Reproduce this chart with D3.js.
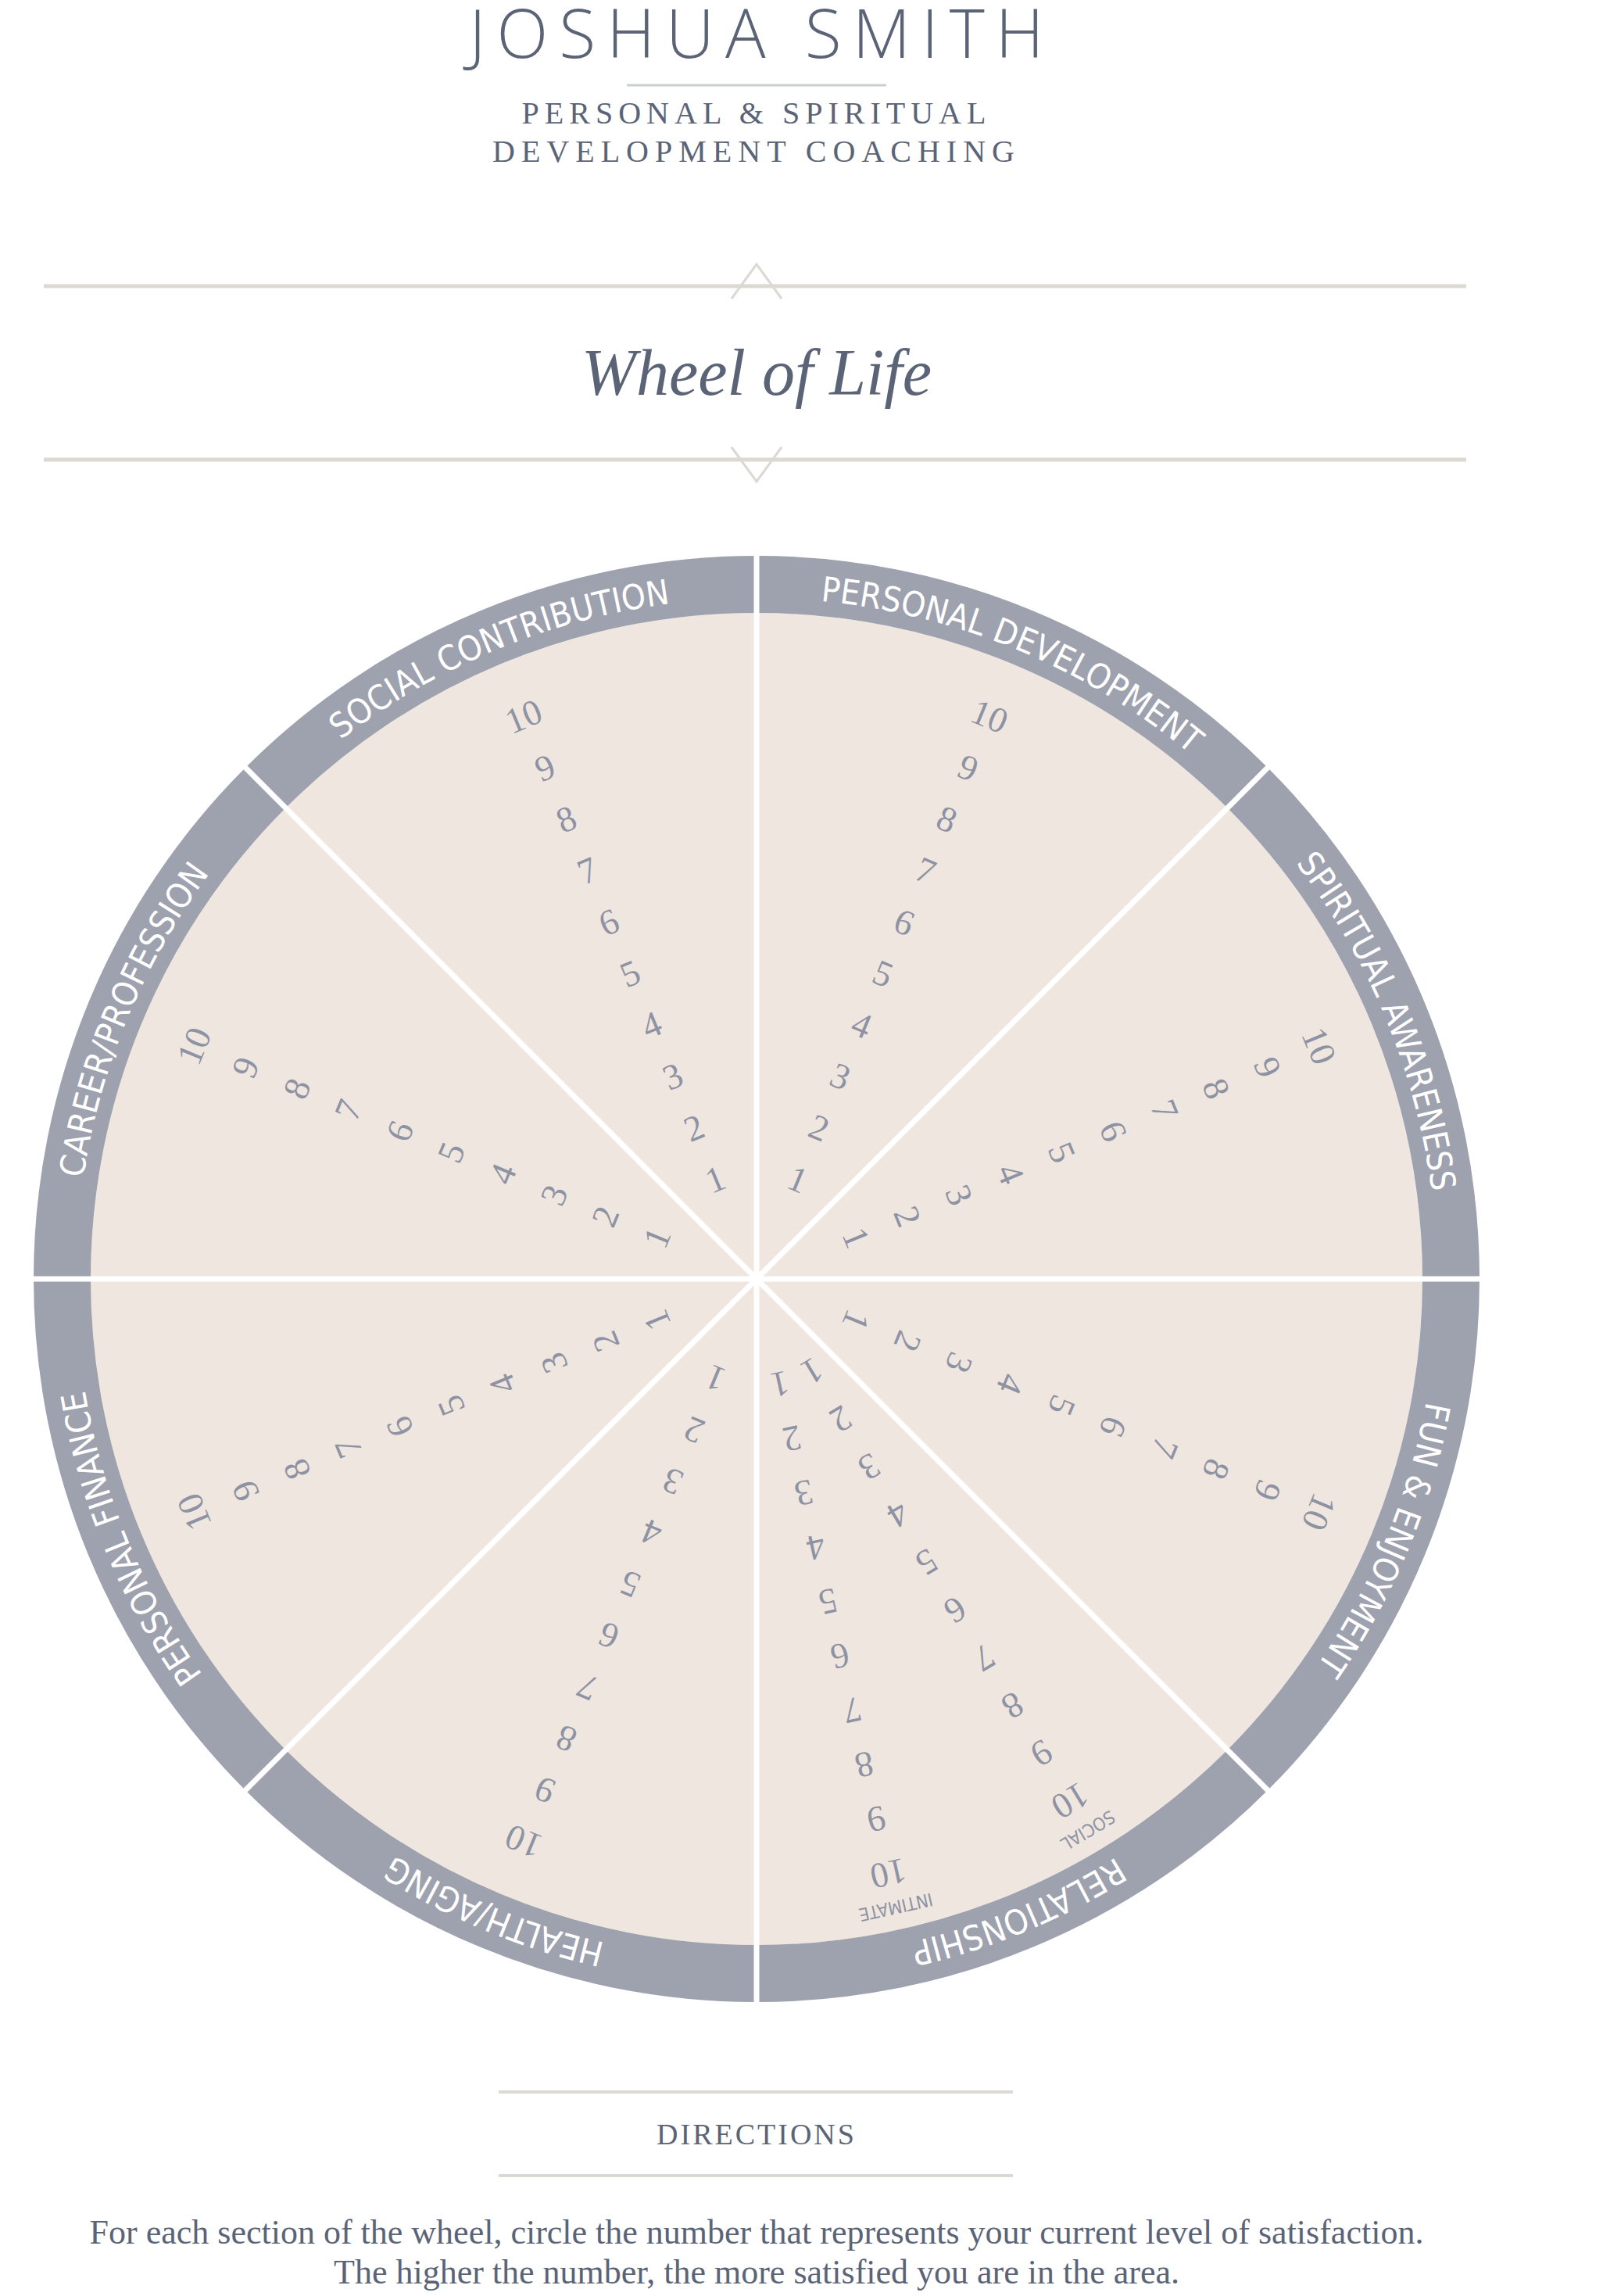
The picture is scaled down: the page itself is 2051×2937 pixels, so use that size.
<!DOCTYPE html>
<html><head><meta charset="utf-8">
<script src="https://cdn.jsdelivr.net/npm/d3@7"></script>
<style>body{margin:0;background:#fff}</style></head>
<body><svg id="c" width="2051" height="2937"></svg>
<script>
const sectors = ["PERSONAL DEVELOPMENT","SPIRITUAL AWARENESS","FUN & ENJOYMENT","RELATIONSHIP","HEALTH/AGING","PERSONAL FINANCE","CAREER/PROFESSION","SOCIAL CONTRIBUTION"];
const scaleNumbers = [1,2,3,4,5,6,7,8,9,10];
// angle (degrees, clockwise from top) of each number line
const numberLines = [
  {angle:22.5}, {angle:67.5}, {angle:112.5},
  {angle:149, sub:"SOCIAL"}, {angle:167.5, sub:"INTIMATE"},
  {angle:202.5}, {angle:247.5}, {angle:292.5}, {angle:337.5}
];
const directionsText = ["For each section of the wheel, circle the number that represents your current level of satisfaction.",
  "The higher the number, the more satisfied you are in the area."];

const svg = d3.select("#c");
const W = 2051, cx = 968, cy = 1636, Rin = 852, Rout = 925;
const ink = "#5b6477", numC = "#8e93a3", ringC = "#9ea1ae", cream = "#f0e6e0", rule = "#dcd8d2";

// header
svg.append("text").attr("x",cx+7).attr("y",74).attr("text-anchor","middle")
  .attr("font-family","Open Sans").attr("font-weight",300).attr("font-size",86)
  .attr("letter-spacing",14).attr("fill",ink).text("JOSHUA SMITH");
svg.append("line").attr("x1",802).attr("x2",1134).attr("y1",109).attr("y2",109).attr("stroke","#c8cfd0").attr("stroke-width",3);
svg.append("text").attr("x",cx).attr("y",158).attr("text-anchor","middle").attr("font-family","Liberation Serif")
  .attr("font-size",40).attr("letter-spacing",7).attr("fill",ink).text("PERSONAL & SPIRITUAL");
svg.append("text").attr("x",cx).attr("y",207).attr("text-anchor","middle").attr("font-family","Liberation Serif")
  .attr("font-size",40).attr("letter-spacing",8).attr("fill",ink).text("DEVELOPMENT COACHING");

[[366,-1],[588,1]].forEach(([y,dir])=>{
  svg.append("line").attr("x1",56).attr("x2",1876).attr("y1",y).attr("y2",y).attr("stroke",rule).attr("stroke-width",5);
  const apex = y + dir*28, feet = y - dir*16;
  svg.append("path").attr("d",`M${cx-32},${feet}L${cx},${apex}L${cx+32},${feet}`)
    .attr("fill","none").attr("stroke",rule).attr("stroke-width",3);
});
svg.append("text").attr("x",cx).attr("y",505).attr("text-anchor","middle").attr("font-family","Liberation Serif")
  .attr("font-style","italic").attr("font-size",84).attr("fill",ink).text("Wheel of Life");

// wheel
const g = svg.append("g").attr("transform",`translate(${cx},${cy})`);
const step = 2*Math.PI/sectors.length;
const pie = sectors.map((s,i)=>({name:s,start:i*step,end:(i+1)*step}));
g.selectAll("path.s").data(pie).join("path").attr("fill",cream)
  .attr("d",d=>d3.arc()({innerRadius:0,outerRadius:Rin,startAngle:d.start,endAngle:d.end}));
g.selectAll("path.r").data(pie).join("path").attr("fill",ringC)
  .attr("d",d=>d3.arc()({innerRadius:Rin,outerRadius:Rout,startAngle:d.start,endAngle:d.end}));
g.selectAll("line.sep").data(pie).join("line")
  .attr("x1",0).attr("y1",0)
  .attr("x2",d=>Math.sin(d.start)*(Rout+4)).attr("y2",d=>-Math.cos(d.start)*(Rout+4))
  .attr("stroke","#fff").attr("stroke-width",7);

// ring labels
const rt = 871;
g.append("path").attr("id","ringPath").attr("fill","none")
  .attr("d",`M0,${-rt}A${rt},${rt} 0 1 1 0,${rt}A${rt},${rt} 0 1 1 0,${-rt}`);
const L = 2*Math.PI*rt;
g.selectAll("text.lab").data(pie).join("text")
  .attr("font-family","DejaVu Sans Condensed, DejaVu Sans").attr("font-size",44).attr("fill","#fff")
  .append("textPath").attr("href","#ringPath").attr("text-anchor","middle")
  .attr("startOffset",d=>((d.start+d.end)/2/(2*Math.PI))*L).text(d=>d.name);

// numbers
const r = d3.scaleLinear().domain([1,10]).range([138,779]);
numberLines.forEach(line=>{
  const a = line.angle*Math.PI/180;
  const grp = g.append("g");
  grp.selectAll("text").data(scaleNumbers).join("text")
    .attr("transform",n=>`translate(${Math.sin(a)*r(n)},${-Math.cos(a)*r(n)}) rotate(${line.angle})`)
    .attr("text-anchor","middle").attr("dominant-baseline","central")
    .attr("font-family","Liberation Serif").attr("font-size",46).attr("fill",numC).text(n=>n);
  if(line.sub){
    const rs = 823;
    g.append("text").attr("transform",`translate(${Math.sin(a)*rs},${-Math.cos(a)*rs}) rotate(${line.angle})`)
      .attr("text-anchor","middle").attr("dominant-baseline","central")
      .attr("font-family","DejaVu Sans Condensed, DejaVu Sans").attr("font-size",23).attr("fill",numC).text(line.sub);
  }
});

// directions
[2676,2783].forEach(y=>svg.append("line").attr("x1",638).attr("x2",1296).attr("y1",y).attr("y2",y).attr("stroke",rule).attr("stroke-width",4));
svg.append("text").attr("x",cx).attr("y",2743).attr("text-anchor","middle").attr("font-family","Liberation Serif")
  .attr("font-size",38).attr("letter-spacing",3).attr("fill",ink).text("DIRECTIONS");
svg.selectAll("text.dir").data(directionsText).join("text")
  .attr("x",cx).attr("y",(d,i)=>2870+i*51).attr("text-anchor","middle")
  .attr("font-family","Liberation Serif").attr("font-size",44).attr("fill",ink).text(d=>d);
</script></body></html>
